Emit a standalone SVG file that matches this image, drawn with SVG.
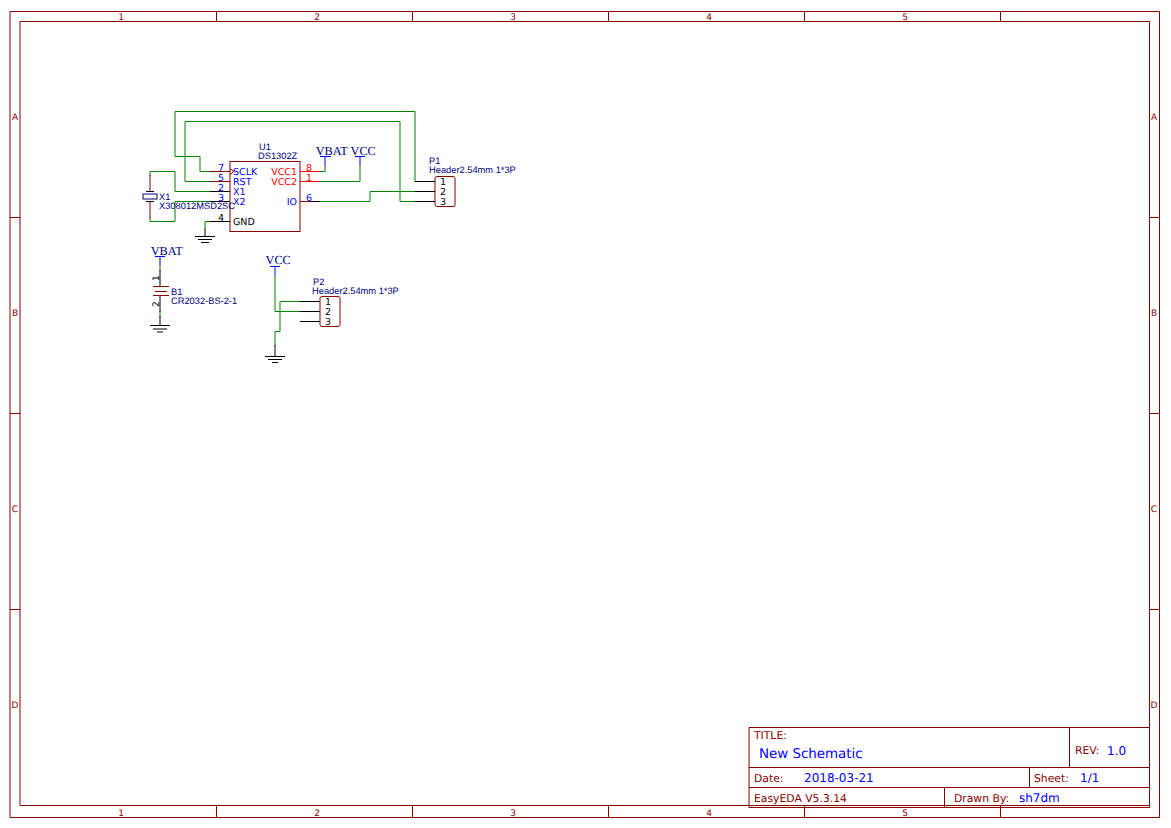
<svg xmlns="http://www.w3.org/2000/svg" width="1171" height="828" viewBox="0 0 1171 828">
<style>
text{font-family:"DejaVu Sans",sans-serif;font-size:9.5px;white-space:pre;text-rendering:geometricPrecision}
.f{fill:none;stroke:#880000;stroke-width:1}
.w{fill:none;stroke:#008000;stroke-width:1}
.p{fill:none;stroke:#000;stroke-width:1}
.r{fill:none;stroke:#ff0000;stroke-width:1}
.s{fill:none;stroke:#880000;stroke-width:1}
.b{fill:none;stroke:#0000ff;stroke-width:1}
.g{fill:none;stroke:#000;stroke-width:1}
.fr{fill:#880000;font-size:9px;text-anchor:middle}
.tl{fill:#880000;font-size:10.8px}
.tv{fill:#0000ff;font-size:12px}
.nm{fill:#000080;font-size:9.3px;font-family:"Liberation Sans",sans-serif}
.nb{fill:#0000ff;font-size:9.5px}
.red{fill:#ff0000}
.blu{fill:#0000ff}
.net{fill:#000080;font-size:12.3px;font-family:"Liberation Serif",serif}
</style>
<rect width="1171" height="828" fill="#fff"/>
<g id="frame">
<path class="f" d="M10 11.5H1159.5V817.5H10ZM20 21.5H1149.5V805.5H20Z"/>
<path class="f" d="M216.5 11.5V21.5M412.5 11.5V21.5M608.5 11.5V21.5M804.5 11.5V21.5M1000.5 11.5V21.5M216.5 805.5V817.5M412.5 805.5V817.5M608.5 805.5V817.5M804.5 805.5V817.5M1000.5 805.5V817.5M10 217.5H20M10 413.5H20M10 609.5H20M1149.5 217.5H1159.5M1149.5 413.5H1159.5M1149.5 609.5H1159.5"/>
<text class="fr" x="121" y="20">1</text><text class="fr" x="317" y="20">2</text><text class="fr" x="513" y="20">3</text><text class="fr" x="709" y="20">4</text><text class="fr" x="905" y="20">5</text>
<text class="fr" x="121" y="816">1</text><text class="fr" x="317" y="816">2</text><text class="fr" x="513" y="816">3</text><text class="fr" x="709" y="816">4</text><text class="fr" x="905" y="816">5</text>
<text class="fr" x="15" y="120">A</text><text class="fr" x="15" y="316">B</text><text class="fr" x="15" y="512">C</text><text class="fr" x="15" y="708">D</text>
<text class="fr" x="1154" y="120">A</text><text class="fr" x="1154" y="316">B</text><text class="fr" x="1154" y="512">C</text><text class="fr" x="1154" y="708">D</text>
</g>
<g id="title-block">
<path class="f" d="M749 727.5H1149.5V807.5H749ZM749 767.5H1149.5M749 787.5H1149.5M1069.5 727.5V767.5M1029.5 767.5V787.5M944.5 787.5V807.5"/>
<text class="tl" x="754" y="739">TITLE:</text>
<text class="tv" x="759" y="758" style="font-size:13.4px">New Schematic</text>
<text class="tl" x="1075" y="754">REV:</text><text class="tv" x="1107" y="755">1.0</text>
<text class="tl" x="754" y="782">Date:</text><text class="tv" x="804" y="782">2018-03-21</text>
<text class="tl" x="1034" y="782">Sheet:</text><text class="tv" x="1080" y="782">1/1</text>
<text class="tl" x="754" y="802">EasyEDA V5.3.14</text>
<text class="tl" x="954" y="802">Drawn By:</text><text class="tv" x="1019" y="802">sh7dm</text>
</g>
<g id="connectors">
<path class="w" d="M210 171.5H200V156.5H175V111.5H415V181.5H420M210 181.5H185V121.5H400V201.5H420M210 191.5H175V171.5H150V176M210 201.5H175V221.5H150V217M210 221.5H205V228M320 171.5H325V166M320 181.5H360V166M320 201.5H370V191.5H420M160 266V271M160 311V317M275 276V311.5H300M300 301.5H280V331.5H275V346"/>
</g>
<g id="U1">
<rect class="s" x="230" y="161.5" width="70" height="70"/>
<path class="s" d="M210 171.5H230M210 181.5H230"/>
<path class="p" d="M210 191.5H230M210 201.5H230M210 221.5H230M310 201.5H320"/>
<path class="r" d="M300 171.5H320M300 181.5H320"/>
<path class="s" d="M300 201.5H310M230 168.5L234 171.5L230 174.5"/>
<text class="nm" x="259" y="150">U1</text><text class="nm" x="258" y="159">DS1302Z</text>
<text class="blu" x="218" y="171">7</text><text class="blu" x="218" y="181">5</text><text class="blu" x="218" y="191">2</text><text class="blu" x="218" y="201">3</text><text x="218" y="221">4</text>
<text class="nb" x="233" y="175">SCLK</text><text class="nb" x="233" y="185">RST</text><text class="nb" x="233" y="195">X1</text><text class="nb" x="233" y="205">X2</text><text x="233" y="225">GND</text>
<text class="red" x="297" y="175" text-anchor="end">VCC1</text><text class="red" x="297" y="185" text-anchor="end">VCC2</text><text class="nb" x="297" y="205" text-anchor="end">IO</text>
<text class="red" x="306" y="171">8</text><text class="red" x="306" y="181">1</text><text class="blu" x="306" y="201">6</text>
</g>
<g id="X1">
<rect x="143" y="194" width="14" height="5" fill="none" stroke="#000080"/>
<path class="p" d="M146 191.5H154M146 201.5H154"/>
<path class="s" d="M150 175V191M150 202V218"/>
<text class="nm" x="159" y="200">X1</text><text class="nm" x="159" y="209">X308012MSD2SC</text>
</g>
<g id="P1">
<rect class="s" x="435" y="176.5" width="20" height="30" rx="2"/>
<path class="p" d="M415 181.5H435M415 191.5H435M415 201.5H435"/>
<text class="nm" x="429" y="164">P1</text><text class="nm" x="429" y="173">Header2.54mm 1*3P</text>
<text x="440" y="185">1</text><text x="440" y="195">2</text><text x="440" y="205">3</text>
</g>
<g id="P2">
<rect class="s" x="320" y="296.5" width="20" height="30" rx="2"/>
<path class="p" d="M300 301.5H320M300 311.5H320M300 321.5H320"/>
<text class="nm" x="313" y="284.5">P2</text><text class="nm" x="312" y="294">Header2.54mm 1*3P</text>
<text x="325" y="305">1</text><text x="325" y="315">2</text><text x="325" y="325">3</text>
</g>
<g id="B1">
<path class="g" d="M160 270V287M160 296V312"/>
<path class="s" d="M153 286.5H169M155 291.5H167M153 295.5H169"/>
<text class="nm" x="171" y="295">B1</text><text class="nm" x="171" y="304">CR2032-BS-2-1</text>
<text transform="translate(159 281) rotate(-90)" style="font-size:9px">1</text>
<text transform="translate(159 307) rotate(-90)" style="font-size:9px">2</text>
</g>
<g id="VBAT1"><path class="b" d="M320 156.5H331M325 157V166"/><text class="net" x="315.7" y="154.5">VBAT</text></g>
<g id="VCC1"><path class="b" d="M355 156.5H365M360 157V166"/><text class="net" x="350.5" y="154.5">VCC</text></g>
<g id="VBAT2"><path class="b" d="M155 256.5H165M160 257V266"/><text class="net" x="150.7" y="254.5">VBAT</text></g>
<g id="VCC2"><path class="b" d="M270 266.5H280M275 267V276"/><text class="net" x="265.5" y="264">VCC</text></g>
<g id="GND1"><path class="g" d="M205 228V236M195 236.5H215M198 239.5H212M201 242.5H209"/></g>
<g id="GND2"><path class="g" d="M160 316V326M150 325.5H170M153 329H167M157 332H163"/></g>
<g id="GND3"><path class="g" d="M275 345V356M265 356.5H285M268 359.5H282M272 362.5H278"/></g>
</svg>
